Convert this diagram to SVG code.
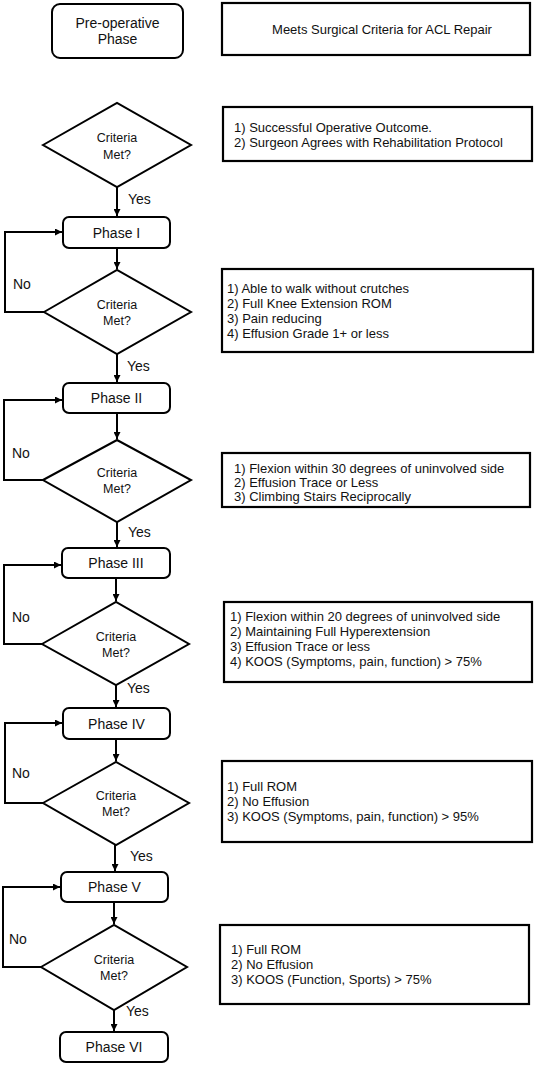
<svg xmlns="http://www.w3.org/2000/svg" width="542" height="1067" viewBox="0 0 542 1067">
<defs>
<marker id="ah" viewBox="0 0 10 10" refX="10" refY="5" markerWidth="8" markerHeight="7" markerUnits="userSpaceOnUse" orient="auto">
<path d="M0,0 L10,5 L0,10 z" fill="#000"/>
</marker>
<style>
.box{fill:#fff;stroke:#000;stroke-width:2.2}
.ph{fill:#fff;stroke:#000;stroke-width:2}
.dm{fill:#fff;stroke:#000;stroke-width:2}
.t{font-family:"Liberation Sans",Arial,sans-serif;font-size:13px;fill:#111}
.tm{font-family:"Liberation Sans",Arial,sans-serif;font-size:12.5px;fill:#111}
.tl{font-family:"Liberation Sans",Arial,sans-serif;font-size:14px;fill:#111}
.c{text-anchor:middle}
.ln{fill:none;stroke:#000;stroke-width:2}
</style>
</defs>
<rect width="542" height="1067" fill="#fff"/>

<g id="preop">
<rect class="ph" x="52" y="4" width="131" height="54" rx="8"/>
<text class="tl c" x="117.5" y="28">Pre-operative</text>
<text class="tl c" x="117.5" y="44">Phase</text>
</g>
<g id="box0">
<rect class="box" x="222" y="3" width="308" height="52"/>
<text class="t c" x="382" y="34">Meets Surgical Criteria for ACL Repair</text>
</g>

<g id="d1">
<polygon class="dm" points="43,145 117,103 191,145 117,187"/>
<text class="tm c" x="117" y="142">Criteria</text>
<text class="tm c" x="117" y="159">Met?</text>
</g>
<g id="box1">
<rect class="box" x="223" y="107" width="309" height="54"/>
<text class="t" x="234" y="132">1) Successful Operative Outcome.</text>
<text class="t" x="234" y="147">2) Surgeon Agrees with Rehabilitation Protocol</text>
</g>

<g id="p1">
<rect class="ph" x="63" y="217" width="107" height="31" rx="6"/>
<text class="tl c" x="116.5" y="238">Phase I</text>
</g>
<g id="d2">
<polygon class="dm" points="44,312 117,270 191,312 117,354"/>
<text class="tm c" x="117" y="309">Criteria</text>
<text class="tm c" x="117" y="325">Met?</text>
</g>
<g id="box2">
<rect class="box" x="222" y="269" width="311" height="83"/>
<text class="t" x="227" y="293">1) Able to walk without crutches</text>
<text class="t" x="227" y="308">2) Full Knee Extension ROM</text>
<text class="t" x="227" y="323">3) Pain reducing</text>
<text class="t" x="227" y="338">4) Effusion Grade 1+ or less</text>
</g>

<g id="p2">
<rect class="ph" x="63" y="383" width="107" height="30" rx="6"/>
<text class="tl c" x="116.5" y="403">Phase II</text>
</g>
<g id="d3">
<polygon class="dm" points="43,480 117,440 191,480 117,522"/>
<text class="tm c" x="117" y="477">Criteria</text>
<text class="tm c" x="117" y="493">Met?</text>
</g>
<g id="box3">
<rect class="box" x="222" y="453" width="308" height="54"/>
<text class="t" x="234" y="473">1) Flexion within 30 degrees of uninvolved side</text>
<text class="t" x="234" y="487">2) Effusion Trace or Less</text>
<text class="t" x="234" y="501">3) Climbing Stairs Reciprocally</text>
</g>

<g id="p3">
<rect class="ph" x="62" y="548" width="108" height="30" rx="6"/>
<text class="tl c" x="116" y="568">Phase III</text>
</g>
<g id="d4">
<polygon class="dm" points="42,644 116,602 189,644 116,685"/>
<text class="tm c" x="116" y="641">Criteria</text>
<text class="tm c" x="116" y="657">Met?</text>
</g>
<g id="box4">
<rect class="box" x="224" y="602" width="308" height="80"/>
<text class="t" x="230" y="621">1) Flexion within 20 degrees of uninvolved side</text>
<text class="t" x="230" y="636">2) Maintaining Full Hyperextension</text>
<text class="t" x="230" y="651">3) Effusion Trace or less</text>
<text class="t" x="230" y="666">4) KOOS (Symptoms, pain, function) &gt; 75%</text>
</g>

<g id="p4">
<rect class="ph" x="63" y="708" width="107" height="31" rx="6"/>
<text class="tl c" x="116.5" y="729">Phase IV</text>
</g>
<g id="d5">
<polygon class="dm" points="43,803 116,762 189,803 116,845"/>
<text class="tm c" x="116" y="800">Criteria</text>
<text class="tm c" x="116" y="816">Met?</text>
</g>
<g id="box5">
<rect class="box" x="222" y="761" width="310" height="81"/>
<text class="t" x="227" y="791">1) Full ROM</text>
<text class="t" x="227" y="806">2) No Effusion</text>
<text class="t" x="227" y="821">3) KOOS (Symptoms, pain, function) &gt; 95%</text>
</g>

<g id="p5">
<rect class="ph" x="61" y="872" width="107" height="30" rx="6"/>
<text class="tl c" x="114.5" y="892">Phase V</text>
</g>
<g id="d6">
<polygon class="dm" points="41,967 114,925 187,967 114,1010"/>
<text class="tm c" x="114" y="964">Criteria</text>
<text class="tm c" x="114" y="980">Met?</text>
</g>
<g id="box6">
<rect class="box" x="220" y="925" width="309" height="79"/>
<text class="t" x="231" y="954">1) Full ROM</text>
<text class="t" x="231" y="969">2) No Effusion</text>
<text class="t" x="231" y="984">3) KOOS (Function, Sports) &gt; 75%</text>
</g>

<g id="p6">
<rect class="ph" x="60" y="1032" width="108" height="30" rx="6"/>
<text class="tl c" x="114" y="1052">Phase VI</text>
</g>

<g id="connectors">
<line class="ln" x1="117" y1="187" x2="117" y2="216" marker-end="url(#ah)"/>
<line class="ln" x1="117" y1="248" x2="117" y2="269" marker-end="url(#ah)"/>
<polyline class="ln" points="44,312 5,312 5,232 62,232" marker-end="url(#ah)"/>
<line class="ln" x1="117" y1="354" x2="117" y2="382" marker-end="url(#ah)"/>
<line class="ln" x1="117" y1="413" x2="117" y2="439" marker-end="url(#ah)"/>
<polyline class="ln" points="43,480 4,480 4,400 62,400" marker-end="url(#ah)"/>
<line class="ln" x1="117" y1="522" x2="117" y2="547" marker-end="url(#ah)"/>
<line class="ln" x1="116" y1="578" x2="116" y2="601" marker-end="url(#ah)"/>
<polyline class="ln" points="42,644 4,644 4,565 61,565" marker-end="url(#ah)"/>
<line class="ln" x1="116" y1="685" x2="116" y2="707" marker-end="url(#ah)"/>
<line class="ln" x1="116" y1="739" x2="116" y2="761" marker-end="url(#ah)"/>
<polyline class="ln" points="43,803 5,803 5,723 62,723" marker-end="url(#ah)"/>
<line class="ln" x1="115" y1="845" x2="115" y2="871" marker-end="url(#ah)"/>
<line class="ln" x1="114" y1="902" x2="114" y2="924" marker-end="url(#ah)"/>
<polyline class="ln" points="41,967 3,967 3,887 60,887" marker-end="url(#ah)"/>
<line class="ln" x1="114" y1="1010" x2="114" y2="1031" marker-end="url(#ah)"/>
<text class="tl" x="128" y="204">Yes</text>
<text class="tl" x="13" y="289">No</text>
<text class="tl" x="127" y="371">Yes</text>
<text class="tl" x="12" y="458">No</text>
<text class="tl" x="128" y="537">Yes</text>
<text class="tl" x="12" y="622">No</text>
<text class="tl" x="127" y="693">Yes</text>
<text class="tl" x="12" y="778">No</text>
<text class="tl" x="130" y="861">Yes</text>
<text class="tl" x="9" y="944">No</text>
<text class="tl" x="126" y="1016">Yes</text>
</g>
</svg>
